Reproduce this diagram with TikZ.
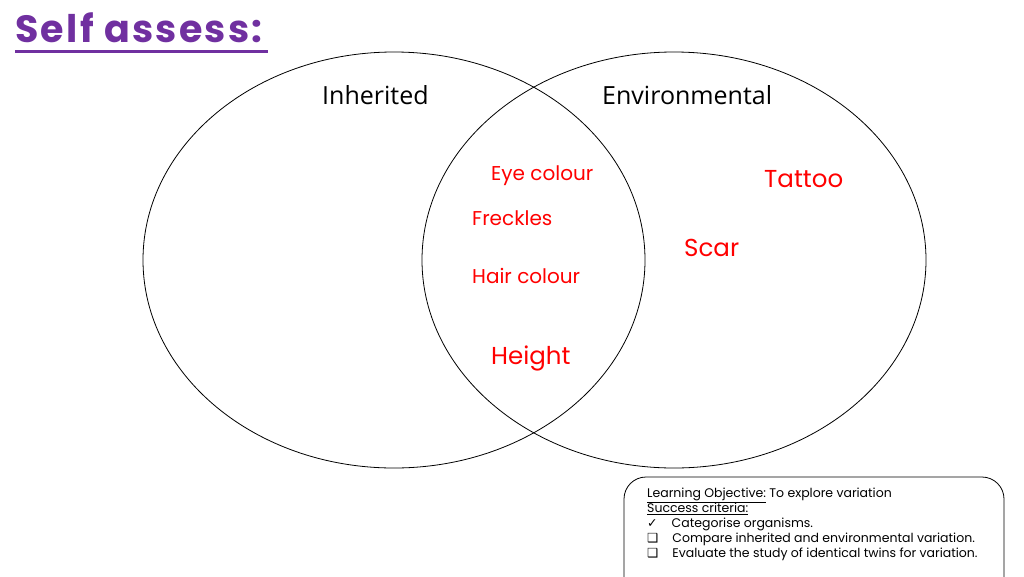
\documentclass[tikz,border=0pt]{standalone}
\usepackage{fontspec}
\setmainfont{Open Sans}
\newfontfamily\comic{Poppins}
\newfontfamily\comicsp[LetterSpace=6]{Poppins}
\newfontfamily\sym{DejaVu Sans}
\definecolor{purp}{RGB}{112,48,160}
\begin{document}
\begin{tikzpicture}[x=1pt,y=-1pt,
  lbl/.style={anchor=west,font=\fontsize{25}{30}\selectfont},
  red/.style={anchor=west,text=red,font=\comic\fontsize{20}{24}\selectfont},
  redbig/.style={anchor=west,text=red,font=\comic\fontsize{24.5}{29}\selectfont}]
\useasboundingbox (0,0) rectangle (1024,576);
\fill[white] (0,0) rectangle (1024,576);
\node[anchor=west,text=purp,font=\comicsp\bfseries\fontsize{38}{42}\selectfont,inner sep=0] (title) at (15,28) {Self assess:};
\draw[line width=3pt,purp] (15,51) -- (268,51);
\draw[thick] (394,260) ellipse [x radius=251, y radius=208];
\draw[thick] (674,260) ellipse [x radius=252, y radius=208];
\node[lbl,inner sep=0] (inh) at (322,95) {Inherited};
\node[lbl,inner sep=0] (env) at (602,95) {Environmental};
\node[red,inner sep=0] (eye) at (491,176) {Eye colour};
\node[red,inner sep=0] (fr) at (472,218) {Freckles};
\node[red,inner sep=0] (hair) at (472,276) {Hair colour};
\node[redbig,inner sep=0] (h) at (491,358) {Height};
\node[redbig,inner sep=0] (tat) at (764,179) {Tattoo};
\node[redbig,inner sep=0] (scar) at (684,248) {Scar};
\draw[thick,rounded corners=22pt] (624,600) -- (624,477) -- (1004,477) -- (1004,600);
\node[anchor=north west,align=left,font=\comic\fontsize{12.5}{15}\selectfont,inner sep=0] (lo) at (647,488)
{\underline{Learning Objective:} To explore variation\\
\underline{Success criteria:}\\
{\sym\char"2713}\hspace{14pt}Categorise organisms.\\
{\sym\char"2751}\hspace{14pt}Compare inherited and environmental variation.\\
{\sym\char"2751}\hspace{14pt}Evaluate the study of identical twins for variation.};
\end{tikzpicture}
\end{document}
